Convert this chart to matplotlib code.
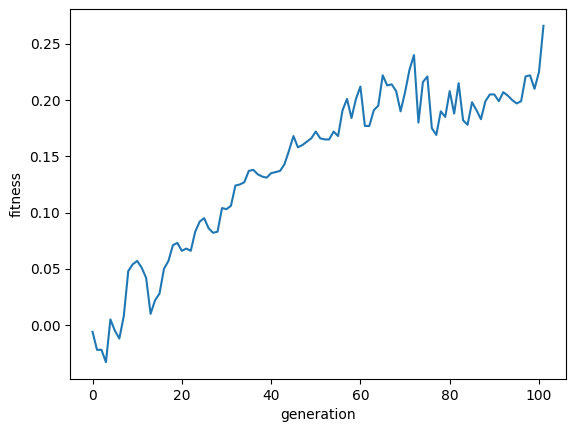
import matplotlib
matplotlib.use("Agg")
import matplotlib.pyplot as plt
import numpy as np

fitness = np.array([
    -0.006, -0.022, -0.022, -0.033, 0.005, -0.005, -0.012, 0.008, 0.048, 0.054,
    0.057, 0.051, 0.042, 0.010, 0.022, 0.028, 0.050, 0.057, 0.071, 0.073,
    0.066, 0.068, 0.066, 0.083, 0.092, 0.095, 0.086, 0.082, 0.083, 0.104,
    0.103, 0.106, 0.124, 0.125, 0.127, 0.137, 0.138, 0.134, 0.132, 0.131,
    0.135, 0.136, 0.137, 0.143, 0.155, 0.168, 0.158, 0.160, 0.163, 0.166,
    0.172, 0.166, 0.165, 0.165, 0.172, 0.168, 0.191, 0.201, 0.184, 0.201,
    0.212, 0.177, 0.177, 0.191, 0.195, 0.222, 0.213, 0.214, 0.208, 0.190,
    0.207, 0.227, 0.240, 0.180, 0.216, 0.221, 0.175, 0.169, 0.190, 0.185,
    0.208, 0.188, 0.215, 0.182, 0.178, 0.198, 0.191, 0.183, 0.199, 0.205,
    0.205, 0.199, 0.207, 0.204, 0.200, 0.197, 0.199, 0.221, 0.222, 0.210,
    0.225, 0.266,
])
generations = np.arange(len(fitness))

fig = plt.figure(figsize=(5.76, 4.32), dpi=100)
# axes box placed to match the reference (left 70, right 566, top 9, bottom 379 px)
ax = fig.add_axes([70 / 576, 53 / 432, 496 / 576, 370 / 432])
ax.plot(generations, fitness)
ax.set_xlabel('generation')
ax.set_ylabel('fitness')

fig.savefig('out.png', dpi=100)
